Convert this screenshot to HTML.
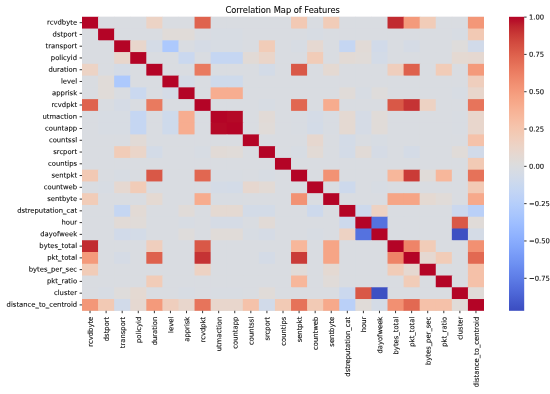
<!DOCTYPE html><html><head><meta charset="utf-8"><title>Correlation Map of Features</title>
<style>html,body{margin:0;padding:0;background:#fff;}body{width:550px;height:394px;overflow:hidden;}svg{display:block;}text{font-family:"DejaVu Sans","Liberation Sans",sans-serif;fill:#0a0a0a;stroke:#0a0a0a;stroke-width:0.10;}</style></head><body>
<svg width="550" height="394" viewBox="0 0 550 394">
<rect x="0" y="0" width="550" height="394" fill="#ffffff"/>
<defs><linearGradient id="cb" x1="0" y1="1" x2="0" y2="0">
<stop offset="0.0000" stop-color="#3b4cc0"/>
<stop offset="0.0156" stop-color="#3f53c6"/>
<stop offset="0.0312" stop-color="#445acc"/>
<stop offset="0.0469" stop-color="#4961d2"/>
<stop offset="0.0625" stop-color="#4e68d8"/>
<stop offset="0.0781" stop-color="#536edd"/>
<stop offset="0.0938" stop-color="#5875e1"/>
<stop offset="0.1094" stop-color="#5d7ce6"/>
<stop offset="0.1250" stop-color="#6282ea"/>
<stop offset="0.1406" stop-color="#6788ee"/>
<stop offset="0.1562" stop-color="#6c8ff1"/>
<stop offset="0.1719" stop-color="#7295f4"/>
<stop offset="0.1875" stop-color="#779af7"/>
<stop offset="0.2031" stop-color="#7da0f9"/>
<stop offset="0.2188" stop-color="#82a6fb"/>
<stop offset="0.2344" stop-color="#88abfd"/>
<stop offset="0.2500" stop-color="#8db0fe"/>
<stop offset="0.2656" stop-color="#93b5fe"/>
<stop offset="0.2812" stop-color="#98b9ff"/>
<stop offset="0.2969" stop-color="#9ebeff"/>
<stop offset="0.3125" stop-color="#a3c2fe"/>
<stop offset="0.3281" stop-color="#a9c6fd"/>
<stop offset="0.3438" stop-color="#aec9fc"/>
<stop offset="0.3594" stop-color="#b3cdfb"/>
<stop offset="0.3750" stop-color="#b9d0f9"/>
<stop offset="0.3906" stop-color="#bed2f6"/>
<stop offset="0.4062" stop-color="#c3d5f4"/>
<stop offset="0.4219" stop-color="#c7d7f0"/>
<stop offset="0.4375" stop-color="#ccd9ed"/>
<stop offset="0.4531" stop-color="#d1dae9"/>
<stop offset="0.4688" stop-color="#d5dbe5"/>
<stop offset="0.4844" stop-color="#d9dce1"/>
<stop offset="0.5000" stop-color="#dddcdc"/>
<stop offset="0.5156" stop-color="#e1dad6"/>
<stop offset="0.5312" stop-color="#e5d8d1"/>
<stop offset="0.5469" stop-color="#e9d5cb"/>
<stop offset="0.5625" stop-color="#ecd3c5"/>
<stop offset="0.5781" stop-color="#efcfbf"/>
<stop offset="0.5938" stop-color="#f1ccb8"/>
<stop offset="0.6094" stop-color="#f3c8b2"/>
<stop offset="0.6250" stop-color="#f5c4ac"/>
<stop offset="0.6406" stop-color="#f6bfa6"/>
<stop offset="0.6562" stop-color="#f7ba9f"/>
<stop offset="0.6719" stop-color="#f7b599"/>
<stop offset="0.6875" stop-color="#f7b093"/>
<stop offset="0.7031" stop-color="#f7aa8c"/>
<stop offset="0.7188" stop-color="#f6a586"/>
<stop offset="0.7344" stop-color="#f59f80"/>
<stop offset="0.7500" stop-color="#f4987a"/>
<stop offset="0.7656" stop-color="#f29274"/>
<stop offset="0.7812" stop-color="#f08b6e"/>
<stop offset="0.7969" stop-color="#ee8468"/>
<stop offset="0.8125" stop-color="#eb7d62"/>
<stop offset="0.8281" stop-color="#e8765c"/>
<stop offset="0.8438" stop-color="#e46e56"/>
<stop offset="0.8594" stop-color="#e16751"/>
<stop offset="0.8750" stop-color="#dd5f4b"/>
<stop offset="0.8906" stop-color="#d85646"/>
<stop offset="0.9062" stop-color="#d44e41"/>
<stop offset="0.9219" stop-color="#cf453c"/>
<stop offset="0.9375" stop-color="#ca3b37"/>
<stop offset="0.9531" stop-color="#c43032"/>
<stop offset="0.9688" stop-color="#be242e"/>
<stop offset="0.9844" stop-color="#b8122a"/>
<stop offset="1.0000" stop-color="#b40426"/>
</linearGradient></defs>
<g>
<rect x="82.00" y="16.80" width="402.00" height="294.00" fill="#dbdcde"/>
<rect x="82.00" y="16.80" width="16.68" height="12.36" fill="#b40426"/>
<rect x="98.08" y="16.80" width="16.68" height="12.36" fill="#d9dce1"/>
<rect x="114.16" y="16.80" width="16.68" height="12.36" fill="#d9dce1"/>
<rect x="130.24" y="16.80" width="16.68" height="12.36" fill="#d9dce1"/>
<rect x="146.32" y="16.80" width="16.68" height="12.36" fill="#ecd3c5"/>
<rect x="162.40" y="16.80" width="16.68" height="12.36" fill="#d9dce1"/>
<rect x="178.48" y="16.80" width="16.68" height="12.36" fill="#d9dce1"/>
<rect x="194.56" y="16.80" width="16.68" height="12.36" fill="#df634e"/>
<rect x="210.64" y="16.80" width="16.68" height="12.36" fill="#d9dce1"/>
<rect x="226.72" y="16.80" width="16.68" height="12.36" fill="#d9dce1"/>
<rect x="242.80" y="16.80" width="16.68" height="12.36" fill="#d9dce1"/>
<rect x="258.88" y="16.80" width="16.68" height="12.36" fill="#d9dce1"/>
<rect x="274.96" y="16.80" width="16.68" height="12.36" fill="#d9dce1"/>
<rect x="291.04" y="16.80" width="16.68" height="12.36" fill="#f2c9b4"/>
<rect x="307.12" y="16.80" width="16.68" height="12.36" fill="#d9dce1"/>
<rect x="323.20" y="16.80" width="16.68" height="12.36" fill="#f1ccb8"/>
<rect x="339.28" y="16.80" width="16.68" height="12.36" fill="#d9dce1"/>
<rect x="355.36" y="16.80" width="16.68" height="12.36" fill="#d9dce1"/>
<rect x="371.44" y="16.80" width="16.68" height="12.36" fill="#d9dce1"/>
<rect x="387.52" y="16.80" width="16.68" height="12.36" fill="#c12b30"/>
<rect x="403.60" y="16.80" width="16.68" height="12.36" fill="#f49a7b"/>
<rect x="419.68" y="16.80" width="16.68" height="12.36" fill="#f1ccb8"/>
<rect x="435.76" y="16.80" width="16.68" height="12.36" fill="#d9dce1"/>
<rect x="451.84" y="16.80" width="16.68" height="12.36" fill="#d9dce1"/>
<rect x="467.92" y="16.80" width="16.08" height="12.36" fill="#f39778"/>
<rect x="82.00" y="28.56" width="16.68" height="12.36" fill="#d9dce1"/>
<rect x="98.08" y="28.56" width="16.68" height="12.36" fill="#b40426"/>
<rect x="114.16" y="28.56" width="16.68" height="12.36" fill="#d9dce1"/>
<rect x="130.24" y="28.56" width="16.68" height="12.36" fill="#d9dce1"/>
<rect x="146.32" y="28.56" width="16.68" height="12.36" fill="#d9dce1"/>
<rect x="162.40" y="28.56" width="16.68" height="12.36" fill="#e0dbd8"/>
<rect x="178.48" y="28.56" width="16.68" height="12.36" fill="#e0dbd8"/>
<rect x="194.56" y="28.56" width="16.68" height="12.36" fill="#d9dce1"/>
<rect x="210.64" y="28.56" width="16.68" height="12.36" fill="#d7dce3"/>
<rect x="226.72" y="28.56" width="16.68" height="12.36" fill="#d7dce3"/>
<rect x="242.80" y="28.56" width="16.68" height="12.36" fill="#d9dce1"/>
<rect x="258.88" y="28.56" width="16.68" height="12.36" fill="#d9dce1"/>
<rect x="274.96" y="28.56" width="16.68" height="12.36" fill="#d9dce1"/>
<rect x="291.04" y="28.56" width="16.68" height="12.36" fill="#d9dce1"/>
<rect x="307.12" y="28.56" width="16.68" height="12.36" fill="#d7dce3"/>
<rect x="323.20" y="28.56" width="16.68" height="12.36" fill="#d9dce1"/>
<rect x="339.28" y="28.56" width="16.68" height="12.36" fill="#d9dce1"/>
<rect x="355.36" y="28.56" width="16.68" height="12.36" fill="#d9dce1"/>
<rect x="371.44" y="28.56" width="16.68" height="12.36" fill="#d9dce1"/>
<rect x="387.52" y="28.56" width="16.68" height="12.36" fill="#d9dce1"/>
<rect x="403.60" y="28.56" width="16.68" height="12.36" fill="#d9dce1"/>
<rect x="419.68" y="28.56" width="16.68" height="12.36" fill="#d9dce1"/>
<rect x="435.76" y="28.56" width="16.68" height="12.36" fill="#d9dce1"/>
<rect x="451.84" y="28.56" width="16.68" height="12.36" fill="#d7dce3"/>
<rect x="467.92" y="28.56" width="16.08" height="12.36" fill="#f2c9b4"/>
<rect x="82.00" y="40.32" width="16.68" height="12.36" fill="#d9dce1"/>
<rect x="98.08" y="40.32" width="16.68" height="12.36" fill="#d9dce1"/>
<rect x="114.16" y="40.32" width="16.68" height="12.36" fill="#b40426"/>
<rect x="130.24" y="40.32" width="16.68" height="12.36" fill="#e8d6cc"/>
<rect x="146.32" y="40.32" width="16.68" height="12.36" fill="#d4dbe6"/>
<rect x="162.40" y="40.32" width="16.68" height="12.36" fill="#adc9fd"/>
<rect x="178.48" y="40.32" width="16.68" height="12.36" fill="#d9dce1"/>
<rect x="194.56" y="40.32" width="16.68" height="12.36" fill="#d5dbe5"/>
<rect x="210.64" y="40.32" width="16.68" height="12.36" fill="#d7dce3"/>
<rect x="226.72" y="40.32" width="16.68" height="12.36" fill="#d7dce3"/>
<rect x="242.80" y="40.32" width="16.68" height="12.36" fill="#d9dce1"/>
<rect x="258.88" y="40.32" width="16.68" height="12.36" fill="#f1ccb8"/>
<rect x="274.96" y="40.32" width="16.68" height="12.36" fill="#d9dce1"/>
<rect x="291.04" y="40.32" width="16.68" height="12.36" fill="#d7dce3"/>
<rect x="307.12" y="40.32" width="16.68" height="12.36" fill="#e5d8d1"/>
<rect x="323.20" y="40.32" width="16.68" height="12.36" fill="#d9dce1"/>
<rect x="339.28" y="40.32" width="16.68" height="12.36" fill="#c5d6f2"/>
<rect x="355.36" y="40.32" width="16.68" height="12.36" fill="#e1dad6"/>
<rect x="371.44" y="40.32" width="16.68" height="12.36" fill="#d1dae9"/>
<rect x="387.52" y="40.32" width="16.68" height="12.36" fill="#d9dce1"/>
<rect x="403.60" y="40.32" width="16.68" height="12.36" fill="#d5dbe5"/>
<rect x="419.68" y="40.32" width="16.68" height="12.36" fill="#d9dce1"/>
<rect x="435.76" y="40.32" width="16.68" height="12.36" fill="#d9dce1"/>
<rect x="451.84" y="40.32" width="16.68" height="12.36" fill="#dedcdb"/>
<rect x="467.92" y="40.32" width="16.08" height="12.36" fill="#d1dae9"/>
<rect x="82.00" y="52.08" width="16.68" height="12.36" fill="#d9dce1"/>
<rect x="98.08" y="52.08" width="16.68" height="12.36" fill="#d9dce1"/>
<rect x="114.16" y="52.08" width="16.68" height="12.36" fill="#e8d6cc"/>
<rect x="130.24" y="52.08" width="16.68" height="12.36" fill="#b40426"/>
<rect x="146.32" y="52.08" width="16.68" height="12.36" fill="#d9dce1"/>
<rect x="162.40" y="52.08" width="16.68" height="12.36" fill="#d9dce1"/>
<rect x="178.48" y="52.08" width="16.68" height="12.36" fill="#cad8ef"/>
<rect x="194.56" y="52.08" width="16.68" height="12.36" fill="#d9dce1"/>
<rect x="210.64" y="52.08" width="16.68" height="12.36" fill="#c5d6f2"/>
<rect x="226.72" y="52.08" width="16.68" height="12.36" fill="#c5d6f2"/>
<rect x="242.80" y="52.08" width="16.68" height="12.36" fill="#e1dad6"/>
<rect x="258.88" y="52.08" width="16.68" height="12.36" fill="#ead5c9"/>
<rect x="274.96" y="52.08" width="16.68" height="12.36" fill="#d9dce1"/>
<rect x="291.04" y="52.08" width="16.68" height="12.36" fill="#d9dce1"/>
<rect x="307.12" y="52.08" width="16.68" height="12.36" fill="#f1ccb8"/>
<rect x="323.20" y="52.08" width="16.68" height="12.36" fill="#d9dce1"/>
<rect x="339.28" y="52.08" width="16.68" height="12.36" fill="#e2dad5"/>
<rect x="355.36" y="52.08" width="16.68" height="12.36" fill="#e0dbd8"/>
<rect x="371.44" y="52.08" width="16.68" height="12.36" fill="#d3dbe7"/>
<rect x="387.52" y="52.08" width="16.68" height="12.36" fill="#d9dce1"/>
<rect x="403.60" y="52.08" width="16.68" height="12.36" fill="#d9dce1"/>
<rect x="419.68" y="52.08" width="16.68" height="12.36" fill="#d9dce1"/>
<rect x="435.76" y="52.08" width="16.68" height="12.36" fill="#d9dce1"/>
<rect x="451.84" y="52.08" width="16.68" height="12.36" fill="#e4d9d2"/>
<rect x="467.92" y="52.08" width="16.08" height="12.36" fill="#e5d8d1"/>
<rect x="82.00" y="63.84" width="16.68" height="12.36" fill="#ecd3c5"/>
<rect x="98.08" y="63.84" width="16.68" height="12.36" fill="#d9dce1"/>
<rect x="114.16" y="63.84" width="16.68" height="12.36" fill="#d4dbe6"/>
<rect x="130.24" y="63.84" width="16.68" height="12.36" fill="#d9dce1"/>
<rect x="146.32" y="63.84" width="16.68" height="12.36" fill="#b40426"/>
<rect x="162.40" y="63.84" width="16.68" height="12.36" fill="#d9dce1"/>
<rect x="178.48" y="63.84" width="16.68" height="12.36" fill="#d9dce1"/>
<rect x="194.56" y="63.84" width="16.68" height="12.36" fill="#e97a5f"/>
<rect x="210.64" y="63.84" width="16.68" height="12.36" fill="#d9dce1"/>
<rect x="226.72" y="63.84" width="16.68" height="12.36" fill="#d9dce1"/>
<rect x="242.80" y="63.84" width="16.68" height="12.36" fill="#d9dce1"/>
<rect x="258.88" y="63.84" width="16.68" height="12.36" fill="#d3dbe7"/>
<rect x="274.96" y="63.84" width="16.68" height="12.36" fill="#d9dce1"/>
<rect x="291.04" y="63.84" width="16.68" height="12.36" fill="#d95847"/>
<rect x="307.12" y="63.84" width="16.68" height="12.36" fill="#d9dce1"/>
<rect x="323.20" y="63.84" width="16.68" height="12.36" fill="#e4d9d2"/>
<rect x="339.28" y="63.84" width="16.68" height="12.36" fill="#d9dce1"/>
<rect x="355.36" y="63.84" width="16.68" height="12.36" fill="#d9dce1"/>
<rect x="371.44" y="63.84" width="16.68" height="12.36" fill="#d9dce1"/>
<rect x="387.52" y="63.84" width="16.68" height="12.36" fill="#efcebd"/>
<rect x="403.60" y="63.84" width="16.68" height="12.36" fill="#de614d"/>
<rect x="419.68" y="63.84" width="16.68" height="12.36" fill="#d9dce1"/>
<rect x="435.76" y="63.84" width="16.68" height="12.36" fill="#f1ccb8"/>
<rect x="451.84" y="63.84" width="16.68" height="12.36" fill="#d9dce1"/>
<rect x="467.92" y="63.84" width="16.08" height="12.36" fill="#f49a7b"/>
<rect x="82.00" y="75.60" width="16.68" height="12.36" fill="#d9dce1"/>
<rect x="98.08" y="75.60" width="16.68" height="12.36" fill="#e0dbd8"/>
<rect x="114.16" y="75.60" width="16.68" height="12.36" fill="#adc9fd"/>
<rect x="130.24" y="75.60" width="16.68" height="12.36" fill="#d9dce1"/>
<rect x="146.32" y="75.60" width="16.68" height="12.36" fill="#d9dce1"/>
<rect x="162.40" y="75.60" width="16.68" height="12.36" fill="#b40426"/>
<rect x="178.48" y="75.60" width="16.68" height="12.36" fill="#d4dbe6"/>
<rect x="194.56" y="75.60" width="16.68" height="12.36" fill="#d9dce1"/>
<rect x="210.64" y="75.60" width="16.68" height="12.36" fill="#cedaeb"/>
<rect x="226.72" y="75.60" width="16.68" height="12.36" fill="#cedaeb"/>
<rect x="242.80" y="75.60" width="16.68" height="12.36" fill="#d9dce1"/>
<rect x="258.88" y="75.60" width="16.68" height="12.36" fill="#d9dce1"/>
<rect x="274.96" y="75.60" width="16.68" height="12.36" fill="#d9dce1"/>
<rect x="291.04" y="75.60" width="16.68" height="12.36" fill="#d9dce1"/>
<rect x="307.12" y="75.60" width="16.68" height="12.36" fill="#d9dce1"/>
<rect x="323.20" y="75.60" width="16.68" height="12.36" fill="#d9dce1"/>
<rect x="339.28" y="75.60" width="16.68" height="12.36" fill="#d9dce1"/>
<rect x="355.36" y="75.60" width="16.68" height="12.36" fill="#d9dce1"/>
<rect x="371.44" y="75.60" width="16.68" height="12.36" fill="#d9dce1"/>
<rect x="387.52" y="75.60" width="16.68" height="12.36" fill="#d9dce1"/>
<rect x="403.60" y="75.60" width="16.68" height="12.36" fill="#d9dce1"/>
<rect x="419.68" y="75.60" width="16.68" height="12.36" fill="#d9dce1"/>
<rect x="435.76" y="75.60" width="16.68" height="12.36" fill="#d9dce1"/>
<rect x="451.84" y="75.60" width="16.68" height="12.36" fill="#d9dce1"/>
<rect x="467.92" y="75.60" width="16.08" height="12.36" fill="#efcebd"/>
<rect x="82.00" y="87.36" width="16.68" height="12.36" fill="#d9dce1"/>
<rect x="98.08" y="87.36" width="16.68" height="12.36" fill="#e0dbd8"/>
<rect x="114.16" y="87.36" width="16.68" height="12.36" fill="#d9dce1"/>
<rect x="130.24" y="87.36" width="16.68" height="12.36" fill="#cad8ef"/>
<rect x="146.32" y="87.36" width="16.68" height="12.36" fill="#d9dce1"/>
<rect x="162.40" y="87.36" width="16.68" height="12.36" fill="#d4dbe6"/>
<rect x="178.48" y="87.36" width="16.68" height="12.36" fill="#b40426"/>
<rect x="194.56" y="87.36" width="16.68" height="12.36" fill="#d9dce1"/>
<rect x="210.64" y="87.36" width="16.68" height="12.36" fill="#f7ad90"/>
<rect x="226.72" y="87.36" width="16.68" height="12.36" fill="#f7ad90"/>
<rect x="242.80" y="87.36" width="16.68" height="12.36" fill="#d9dce1"/>
<rect x="258.88" y="87.36" width="16.68" height="12.36" fill="#d9dce1"/>
<rect x="274.96" y="87.36" width="16.68" height="12.36" fill="#d9dce1"/>
<rect x="291.04" y="87.36" width="16.68" height="12.36" fill="#d9dce1"/>
<rect x="307.12" y="87.36" width="16.68" height="12.36" fill="#d9dce1"/>
<rect x="323.20" y="87.36" width="16.68" height="12.36" fill="#d9dce1"/>
<rect x="339.28" y="87.36" width="16.68" height="12.36" fill="#e0dbd8"/>
<rect x="355.36" y="87.36" width="16.68" height="12.36" fill="#d7dce3"/>
<rect x="371.44" y="87.36" width="16.68" height="12.36" fill="#dedcdb"/>
<rect x="387.52" y="87.36" width="16.68" height="12.36" fill="#d9dce1"/>
<rect x="403.60" y="87.36" width="16.68" height="12.36" fill="#d9dce1"/>
<rect x="419.68" y="87.36" width="16.68" height="12.36" fill="#d9dce1"/>
<rect x="435.76" y="87.36" width="16.68" height="12.36" fill="#d9dce1"/>
<rect x="451.84" y="87.36" width="16.68" height="12.36" fill="#d7dce3"/>
<rect x="467.92" y="87.36" width="16.08" height="12.36" fill="#e8d6cc"/>
<rect x="82.00" y="99.12" width="16.68" height="12.36" fill="#df634e"/>
<rect x="98.08" y="99.12" width="16.68" height="12.36" fill="#d9dce1"/>
<rect x="114.16" y="99.12" width="16.68" height="12.36" fill="#d5dbe5"/>
<rect x="130.24" y="99.12" width="16.68" height="12.36" fill="#d9dce1"/>
<rect x="146.32" y="99.12" width="16.68" height="12.36" fill="#e97a5f"/>
<rect x="162.40" y="99.12" width="16.68" height="12.36" fill="#d9dce1"/>
<rect x="178.48" y="99.12" width="16.68" height="12.36" fill="#d9dce1"/>
<rect x="194.56" y="99.12" width="16.68" height="12.36" fill="#b40426"/>
<rect x="210.64" y="99.12" width="16.68" height="12.36" fill="#d9dce1"/>
<rect x="226.72" y="99.12" width="16.68" height="12.36" fill="#d9dce1"/>
<rect x="242.80" y="99.12" width="16.68" height="12.36" fill="#d9dce1"/>
<rect x="258.88" y="99.12" width="16.68" height="12.36" fill="#d7dce3"/>
<rect x="274.96" y="99.12" width="16.68" height="12.36" fill="#d9dce1"/>
<rect x="291.04" y="99.12" width="16.68" height="12.36" fill="#e16751"/>
<rect x="307.12" y="99.12" width="16.68" height="12.36" fill="#d9dce1"/>
<rect x="323.20" y="99.12" width="16.68" height="12.36" fill="#f7ac8e"/>
<rect x="339.28" y="99.12" width="16.68" height="12.36" fill="#d9dce1"/>
<rect x="355.36" y="99.12" width="16.68" height="12.36" fill="#d9dce1"/>
<rect x="371.44" y="99.12" width="16.68" height="12.36" fill="#d9dce1"/>
<rect x="387.52" y="99.12" width="16.68" height="12.36" fill="#d95847"/>
<rect x="403.60" y="99.12" width="16.68" height="12.36" fill="#c53334"/>
<rect x="419.68" y="99.12" width="16.68" height="12.36" fill="#edd2c3"/>
<rect x="435.76" y="99.12" width="16.68" height="12.36" fill="#d9dce1"/>
<rect x="451.84" y="99.12" width="16.68" height="12.36" fill="#d9dce1"/>
<rect x="467.92" y="99.12" width="16.08" height="12.36" fill="#e7745b"/>
<rect x="82.00" y="110.88" width="16.68" height="12.36" fill="#d9dce1"/>
<rect x="98.08" y="110.88" width="16.68" height="12.36" fill="#d7dce3"/>
<rect x="114.16" y="110.88" width="16.68" height="12.36" fill="#d7dce3"/>
<rect x="130.24" y="110.88" width="16.68" height="12.36" fill="#c5d6f2"/>
<rect x="146.32" y="110.88" width="16.68" height="12.36" fill="#d9dce1"/>
<rect x="162.40" y="110.88" width="16.68" height="12.36" fill="#cedaeb"/>
<rect x="178.48" y="110.88" width="16.68" height="12.36" fill="#f7ad90"/>
<rect x="194.56" y="110.88" width="16.68" height="12.36" fill="#d9dce1"/>
<rect x="210.64" y="110.88" width="16.68" height="12.36" fill="#b40426"/>
<rect x="226.72" y="110.88" width="16.68" height="12.36" fill="#b50927"/>
<rect x="242.80" y="110.88" width="16.68" height="12.36" fill="#d9dce1"/>
<rect x="258.88" y="110.88" width="16.68" height="12.36" fill="#e1dad6"/>
<rect x="274.96" y="110.88" width="16.68" height="12.36" fill="#d9dce1"/>
<rect x="291.04" y="110.88" width="16.68" height="12.36" fill="#d8dce2"/>
<rect x="307.12" y="110.88" width="16.68" height="12.36" fill="#d4dbe6"/>
<rect x="323.20" y="110.88" width="16.68" height="12.36" fill="#d8dce2"/>
<rect x="339.28" y="110.88" width="16.68" height="12.36" fill="#e4d9d2"/>
<rect x="355.36" y="110.88" width="16.68" height="12.36" fill="#d5dbe5"/>
<rect x="371.44" y="110.88" width="16.68" height="12.36" fill="#e0dbd8"/>
<rect x="387.52" y="110.88" width="16.68" height="12.36" fill="#d9dce1"/>
<rect x="403.60" y="110.88" width="16.68" height="12.36" fill="#d9dce1"/>
<rect x="419.68" y="110.88" width="16.68" height="12.36" fill="#d9dce1"/>
<rect x="435.76" y="110.88" width="16.68" height="12.36" fill="#d9dce1"/>
<rect x="451.84" y="110.88" width="16.68" height="12.36" fill="#d8dce2"/>
<rect x="467.92" y="110.88" width="16.08" height="12.36" fill="#e8d6cc"/>
<rect x="82.00" y="122.64" width="16.68" height="12.36" fill="#d9dce1"/>
<rect x="98.08" y="122.64" width="16.68" height="12.36" fill="#d7dce3"/>
<rect x="114.16" y="122.64" width="16.68" height="12.36" fill="#d7dce3"/>
<rect x="130.24" y="122.64" width="16.68" height="12.36" fill="#c5d6f2"/>
<rect x="146.32" y="122.64" width="16.68" height="12.36" fill="#d9dce1"/>
<rect x="162.40" y="122.64" width="16.68" height="12.36" fill="#cedaeb"/>
<rect x="178.48" y="122.64" width="16.68" height="12.36" fill="#f7ad90"/>
<rect x="194.56" y="122.64" width="16.68" height="12.36" fill="#d9dce1"/>
<rect x="210.64" y="122.64" width="16.68" height="12.36" fill="#b50927"/>
<rect x="226.72" y="122.64" width="16.68" height="12.36" fill="#b40426"/>
<rect x="242.80" y="122.64" width="16.68" height="12.36" fill="#d9dce1"/>
<rect x="258.88" y="122.64" width="16.68" height="12.36" fill="#e0dbd8"/>
<rect x="274.96" y="122.64" width="16.68" height="12.36" fill="#d9dce1"/>
<rect x="291.04" y="122.64" width="16.68" height="12.36" fill="#d8dce2"/>
<rect x="307.12" y="122.64" width="16.68" height="12.36" fill="#d3dbe7"/>
<rect x="323.20" y="122.64" width="16.68" height="12.36" fill="#d8dce2"/>
<rect x="339.28" y="122.64" width="16.68" height="12.36" fill="#e4d9d2"/>
<rect x="355.36" y="122.64" width="16.68" height="12.36" fill="#d5dbe5"/>
<rect x="371.44" y="122.64" width="16.68" height="12.36" fill="#e0dbd8"/>
<rect x="387.52" y="122.64" width="16.68" height="12.36" fill="#d9dce1"/>
<rect x="403.60" y="122.64" width="16.68" height="12.36" fill="#d9dce1"/>
<rect x="419.68" y="122.64" width="16.68" height="12.36" fill="#d9dce1"/>
<rect x="435.76" y="122.64" width="16.68" height="12.36" fill="#d9dce1"/>
<rect x="451.84" y="122.64" width="16.68" height="12.36" fill="#d8dce2"/>
<rect x="467.92" y="122.64" width="16.08" height="12.36" fill="#e8d6cc"/>
<rect x="82.00" y="134.40" width="16.68" height="12.36" fill="#d9dce1"/>
<rect x="98.08" y="134.40" width="16.68" height="12.36" fill="#d9dce1"/>
<rect x="114.16" y="134.40" width="16.68" height="12.36" fill="#d9dce1"/>
<rect x="130.24" y="134.40" width="16.68" height="12.36" fill="#e1dad6"/>
<rect x="146.32" y="134.40" width="16.68" height="12.36" fill="#d9dce1"/>
<rect x="162.40" y="134.40" width="16.68" height="12.36" fill="#d9dce1"/>
<rect x="178.48" y="134.40" width="16.68" height="12.36" fill="#d9dce1"/>
<rect x="194.56" y="134.40" width="16.68" height="12.36" fill="#d9dce1"/>
<rect x="210.64" y="134.40" width="16.68" height="12.36" fill="#d9dce1"/>
<rect x="226.72" y="134.40" width="16.68" height="12.36" fill="#d9dce1"/>
<rect x="242.80" y="134.40" width="16.68" height="12.36" fill="#b40426"/>
<rect x="258.88" y="134.40" width="16.68" height="12.36" fill="#d9dce1"/>
<rect x="274.96" y="134.40" width="16.68" height="12.36" fill="#d9dce1"/>
<rect x="291.04" y="134.40" width="16.68" height="12.36" fill="#d9dce1"/>
<rect x="307.12" y="134.40" width="16.68" height="12.36" fill="#e6d7cf"/>
<rect x="323.20" y="134.40" width="16.68" height="12.36" fill="#d9dce1"/>
<rect x="339.28" y="134.40" width="16.68" height="12.36" fill="#d3dbe7"/>
<rect x="355.36" y="134.40" width="16.68" height="12.36" fill="#d9dce1"/>
<rect x="371.44" y="134.40" width="16.68" height="12.36" fill="#d7dce3"/>
<rect x="387.52" y="134.40" width="16.68" height="12.36" fill="#d9dce1"/>
<rect x="403.60" y="134.40" width="16.68" height="12.36" fill="#d9dce1"/>
<rect x="419.68" y="134.40" width="16.68" height="12.36" fill="#d9dce1"/>
<rect x="435.76" y="134.40" width="16.68" height="12.36" fill="#d9dce1"/>
<rect x="451.84" y="134.40" width="16.68" height="12.36" fill="#d9dce1"/>
<rect x="467.92" y="134.40" width="16.08" height="12.36" fill="#f5c2aa"/>
<rect x="82.00" y="146.16" width="16.68" height="12.36" fill="#d9dce1"/>
<rect x="98.08" y="146.16" width="16.68" height="12.36" fill="#d9dce1"/>
<rect x="114.16" y="146.16" width="16.68" height="12.36" fill="#f1ccb8"/>
<rect x="130.24" y="146.16" width="16.68" height="12.36" fill="#ead5c9"/>
<rect x="146.32" y="146.16" width="16.68" height="12.36" fill="#d3dbe7"/>
<rect x="162.40" y="146.16" width="16.68" height="12.36" fill="#d9dce1"/>
<rect x="178.48" y="146.16" width="16.68" height="12.36" fill="#d9dce1"/>
<rect x="194.56" y="146.16" width="16.68" height="12.36" fill="#d7dce3"/>
<rect x="210.64" y="146.16" width="16.68" height="12.36" fill="#e1dad6"/>
<rect x="226.72" y="146.16" width="16.68" height="12.36" fill="#e0dbd8"/>
<rect x="242.80" y="146.16" width="16.68" height="12.36" fill="#d9dce1"/>
<rect x="258.88" y="146.16" width="16.68" height="12.36" fill="#b40426"/>
<rect x="274.96" y="146.16" width="16.68" height="12.36" fill="#d9dce1"/>
<rect x="291.04" y="146.16" width="16.68" height="12.36" fill="#d7dce3"/>
<rect x="307.12" y="146.16" width="16.68" height="12.36" fill="#e2dad5"/>
<rect x="323.20" y="146.16" width="16.68" height="12.36" fill="#d9dce1"/>
<rect x="339.28" y="146.16" width="16.68" height="12.36" fill="#d3dbe7"/>
<rect x="355.36" y="146.16" width="16.68" height="12.36" fill="#e1dad6"/>
<rect x="371.44" y="146.16" width="16.68" height="12.36" fill="#d5dbe5"/>
<rect x="387.52" y="146.16" width="16.68" height="12.36" fill="#d9dce1"/>
<rect x="403.60" y="146.16" width="16.68" height="12.36" fill="#d4dbe6"/>
<rect x="419.68" y="146.16" width="16.68" height="12.36" fill="#d9dce1"/>
<rect x="435.76" y="146.16" width="16.68" height="12.36" fill="#d9dce1"/>
<rect x="451.84" y="146.16" width="16.68" height="12.36" fill="#e0dbd8"/>
<rect x="467.92" y="146.16" width="16.08" height="12.36" fill="#d1dae9"/>
<rect x="82.00" y="157.92" width="16.68" height="12.36" fill="#d9dce1"/>
<rect x="98.08" y="157.92" width="16.68" height="12.36" fill="#d9dce1"/>
<rect x="114.16" y="157.92" width="16.68" height="12.36" fill="#d9dce1"/>
<rect x="130.24" y="157.92" width="16.68" height="12.36" fill="#d9dce1"/>
<rect x="146.32" y="157.92" width="16.68" height="12.36" fill="#d9dce1"/>
<rect x="162.40" y="157.92" width="16.68" height="12.36" fill="#d9dce1"/>
<rect x="178.48" y="157.92" width="16.68" height="12.36" fill="#d9dce1"/>
<rect x="194.56" y="157.92" width="16.68" height="12.36" fill="#d9dce1"/>
<rect x="210.64" y="157.92" width="16.68" height="12.36" fill="#d9dce1"/>
<rect x="226.72" y="157.92" width="16.68" height="12.36" fill="#d9dce1"/>
<rect x="242.80" y="157.92" width="16.68" height="12.36" fill="#d9dce1"/>
<rect x="258.88" y="157.92" width="16.68" height="12.36" fill="#d9dce1"/>
<rect x="274.96" y="157.92" width="16.68" height="12.36" fill="#b40426"/>
<rect x="291.04" y="157.92" width="16.68" height="12.36" fill="#d9dce1"/>
<rect x="307.12" y="157.92" width="16.68" height="12.36" fill="#d9dce1"/>
<rect x="323.20" y="157.92" width="16.68" height="12.36" fill="#d9dce1"/>
<rect x="339.28" y="157.92" width="16.68" height="12.36" fill="#d9dce1"/>
<rect x="355.36" y="157.92" width="16.68" height="12.36" fill="#d9dce1"/>
<rect x="371.44" y="157.92" width="16.68" height="12.36" fill="#d9dce1"/>
<rect x="387.52" y="157.92" width="16.68" height="12.36" fill="#d9dce1"/>
<rect x="403.60" y="157.92" width="16.68" height="12.36" fill="#d9dce1"/>
<rect x="419.68" y="157.92" width="16.68" height="12.36" fill="#d9dce1"/>
<rect x="435.76" y="157.92" width="16.68" height="12.36" fill="#d9dce1"/>
<rect x="451.84" y="157.92" width="16.68" height="12.36" fill="#d9dce1"/>
<rect x="467.92" y="157.92" width="16.08" height="12.36" fill="#f2cab5"/>
<rect x="82.00" y="169.68" width="16.68" height="12.36" fill="#f2c9b4"/>
<rect x="98.08" y="169.68" width="16.68" height="12.36" fill="#d9dce1"/>
<rect x="114.16" y="169.68" width="16.68" height="12.36" fill="#d7dce3"/>
<rect x="130.24" y="169.68" width="16.68" height="12.36" fill="#d9dce1"/>
<rect x="146.32" y="169.68" width="16.68" height="12.36" fill="#d95847"/>
<rect x="162.40" y="169.68" width="16.68" height="12.36" fill="#d9dce1"/>
<rect x="178.48" y="169.68" width="16.68" height="12.36" fill="#d9dce1"/>
<rect x="194.56" y="169.68" width="16.68" height="12.36" fill="#e16751"/>
<rect x="210.64" y="169.68" width="16.68" height="12.36" fill="#d8dce2"/>
<rect x="226.72" y="169.68" width="16.68" height="12.36" fill="#d8dce2"/>
<rect x="242.80" y="169.68" width="16.68" height="12.36" fill="#d9dce1"/>
<rect x="258.88" y="169.68" width="16.68" height="12.36" fill="#d7dce3"/>
<rect x="274.96" y="169.68" width="16.68" height="12.36" fill="#d9dce1"/>
<rect x="291.04" y="169.68" width="16.68" height="12.36" fill="#b40426"/>
<rect x="307.12" y="169.68" width="16.68" height="12.36" fill="#d9dce1"/>
<rect x="323.20" y="169.68" width="16.68" height="12.36" fill="#f29274"/>
<rect x="339.28" y="169.68" width="16.68" height="12.36" fill="#d9dce1"/>
<rect x="355.36" y="169.68" width="16.68" height="12.36" fill="#d9dce1"/>
<rect x="371.44" y="169.68" width="16.68" height="12.36" fill="#d9dce1"/>
<rect x="387.52" y="169.68" width="16.68" height="12.36" fill="#f7b79b"/>
<rect x="403.60" y="169.68" width="16.68" height="12.36" fill="#ca3b37"/>
<rect x="419.68" y="169.68" width="16.68" height="12.36" fill="#e0dbd8"/>
<rect x="435.76" y="169.68" width="16.68" height="12.36" fill="#f7b79b"/>
<rect x="451.84" y="169.68" width="16.68" height="12.36" fill="#d9dce1"/>
<rect x="467.92" y="169.68" width="16.08" height="12.36" fill="#e67259"/>
<rect x="82.00" y="181.44" width="16.68" height="12.36" fill="#d9dce1"/>
<rect x="98.08" y="181.44" width="16.68" height="12.36" fill="#d7dce3"/>
<rect x="114.16" y="181.44" width="16.68" height="12.36" fill="#e5d8d1"/>
<rect x="130.24" y="181.44" width="16.68" height="12.36" fill="#f1ccb8"/>
<rect x="146.32" y="181.44" width="16.68" height="12.36" fill="#d9dce1"/>
<rect x="162.40" y="181.44" width="16.68" height="12.36" fill="#d9dce1"/>
<rect x="178.48" y="181.44" width="16.68" height="12.36" fill="#d9dce1"/>
<rect x="194.56" y="181.44" width="16.68" height="12.36" fill="#d9dce1"/>
<rect x="210.64" y="181.44" width="16.68" height="12.36" fill="#d4dbe6"/>
<rect x="226.72" y="181.44" width="16.68" height="12.36" fill="#d3dbe7"/>
<rect x="242.80" y="181.44" width="16.68" height="12.36" fill="#e6d7cf"/>
<rect x="258.88" y="181.44" width="16.68" height="12.36" fill="#e2dad5"/>
<rect x="274.96" y="181.44" width="16.68" height="12.36" fill="#d9dce1"/>
<rect x="291.04" y="181.44" width="16.68" height="12.36" fill="#d9dce1"/>
<rect x="307.12" y="181.44" width="16.68" height="12.36" fill="#b40426"/>
<rect x="323.20" y="181.44" width="16.68" height="12.36" fill="#d9dce1"/>
<rect x="339.28" y="181.44" width="16.68" height="12.36" fill="#cdd9ec"/>
<rect x="355.36" y="181.44" width="16.68" height="12.36" fill="#d9dce1"/>
<rect x="371.44" y="181.44" width="16.68" height="12.36" fill="#d7dce3"/>
<rect x="387.52" y="181.44" width="16.68" height="12.36" fill="#d9dce1"/>
<rect x="403.60" y="181.44" width="16.68" height="12.36" fill="#d9dce1"/>
<rect x="419.68" y="181.44" width="16.68" height="12.36" fill="#d9dce1"/>
<rect x="435.76" y="181.44" width="16.68" height="12.36" fill="#d9dce1"/>
<rect x="451.84" y="181.44" width="16.68" height="12.36" fill="#d9dce1"/>
<rect x="467.92" y="181.44" width="16.08" height="12.36" fill="#f2cab5"/>
<rect x="82.00" y="193.20" width="16.68" height="12.36" fill="#f1ccb8"/>
<rect x="98.08" y="193.20" width="16.68" height="12.36" fill="#d9dce1"/>
<rect x="114.16" y="193.20" width="16.68" height="12.36" fill="#d9dce1"/>
<rect x="130.24" y="193.20" width="16.68" height="12.36" fill="#d9dce1"/>
<rect x="146.32" y="193.20" width="16.68" height="12.36" fill="#e4d9d2"/>
<rect x="162.40" y="193.20" width="16.68" height="12.36" fill="#d9dce1"/>
<rect x="178.48" y="193.20" width="16.68" height="12.36" fill="#d9dce1"/>
<rect x="194.56" y="193.20" width="16.68" height="12.36" fill="#f7ac8e"/>
<rect x="210.64" y="193.20" width="16.68" height="12.36" fill="#d8dce2"/>
<rect x="226.72" y="193.20" width="16.68" height="12.36" fill="#d8dce2"/>
<rect x="242.80" y="193.20" width="16.68" height="12.36" fill="#d9dce1"/>
<rect x="258.88" y="193.20" width="16.68" height="12.36" fill="#d9dce1"/>
<rect x="274.96" y="193.20" width="16.68" height="12.36" fill="#d9dce1"/>
<rect x="291.04" y="193.20" width="16.68" height="12.36" fill="#f29274"/>
<rect x="307.12" y="193.20" width="16.68" height="12.36" fill="#d9dce1"/>
<rect x="323.20" y="193.20" width="16.68" height="12.36" fill="#b40426"/>
<rect x="339.28" y="193.20" width="16.68" height="12.36" fill="#d9dce1"/>
<rect x="355.36" y="193.20" width="16.68" height="12.36" fill="#d9dce1"/>
<rect x="371.44" y="193.20" width="16.68" height="12.36" fill="#d9dce1"/>
<rect x="387.52" y="193.20" width="16.68" height="12.36" fill="#f6a586"/>
<rect x="403.60" y="193.20" width="16.68" height="12.36" fill="#f6a586"/>
<rect x="419.68" y="193.20" width="16.68" height="12.36" fill="#e4d9d2"/>
<rect x="435.76" y="193.20" width="16.68" height="12.36" fill="#e0dbd8"/>
<rect x="451.84" y="193.20" width="16.68" height="12.36" fill="#d9dce1"/>
<rect x="467.92" y="193.20" width="16.08" height="12.36" fill="#f7a98b"/>
<rect x="82.00" y="204.96" width="16.68" height="12.36" fill="#d9dce1"/>
<rect x="98.08" y="204.96" width="16.68" height="12.36" fill="#d9dce1"/>
<rect x="114.16" y="204.96" width="16.68" height="12.36" fill="#c5d6f2"/>
<rect x="130.24" y="204.96" width="16.68" height="12.36" fill="#e2dad5"/>
<rect x="146.32" y="204.96" width="16.68" height="12.36" fill="#d9dce1"/>
<rect x="162.40" y="204.96" width="16.68" height="12.36" fill="#d9dce1"/>
<rect x="178.48" y="204.96" width="16.68" height="12.36" fill="#e0dbd8"/>
<rect x="194.56" y="204.96" width="16.68" height="12.36" fill="#d9dce1"/>
<rect x="210.64" y="204.96" width="16.68" height="12.36" fill="#e4d9d2"/>
<rect x="226.72" y="204.96" width="16.68" height="12.36" fill="#e4d9d2"/>
<rect x="242.80" y="204.96" width="16.68" height="12.36" fill="#d3dbe7"/>
<rect x="258.88" y="204.96" width="16.68" height="12.36" fill="#d3dbe7"/>
<rect x="274.96" y="204.96" width="16.68" height="12.36" fill="#d9dce1"/>
<rect x="291.04" y="204.96" width="16.68" height="12.36" fill="#d9dce1"/>
<rect x="307.12" y="204.96" width="16.68" height="12.36" fill="#cdd9ec"/>
<rect x="323.20" y="204.96" width="16.68" height="12.36" fill="#d9dce1"/>
<rect x="339.28" y="204.96" width="16.68" height="12.36" fill="#b40426"/>
<rect x="355.36" y="204.96" width="16.68" height="12.36" fill="#cdd9ec"/>
<rect x="371.44" y="204.96" width="16.68" height="12.36" fill="#edd2c3"/>
<rect x="387.52" y="204.96" width="16.68" height="12.36" fill="#d9dce1"/>
<rect x="403.60" y="204.96" width="16.68" height="12.36" fill="#d9dce1"/>
<rect x="419.68" y="204.96" width="16.68" height="12.36" fill="#d9dce1"/>
<rect x="435.76" y="204.96" width="16.68" height="12.36" fill="#d9dce1"/>
<rect x="451.84" y="204.96" width="16.68" height="12.36" fill="#cbd8ee"/>
<rect x="467.92" y="204.96" width="16.08" height="12.36" fill="#bad0f8"/>
<rect x="82.00" y="216.72" width="16.68" height="12.36" fill="#d9dce1"/>
<rect x="98.08" y="216.72" width="16.68" height="12.36" fill="#d9dce1"/>
<rect x="114.16" y="216.72" width="16.68" height="12.36" fill="#e1dad6"/>
<rect x="130.24" y="216.72" width="16.68" height="12.36" fill="#e0dbd8"/>
<rect x="146.32" y="216.72" width="16.68" height="12.36" fill="#d9dce1"/>
<rect x="162.40" y="216.72" width="16.68" height="12.36" fill="#d9dce1"/>
<rect x="178.48" y="216.72" width="16.68" height="12.36" fill="#d7dce3"/>
<rect x="194.56" y="216.72" width="16.68" height="12.36" fill="#d9dce1"/>
<rect x="210.64" y="216.72" width="16.68" height="12.36" fill="#d5dbe5"/>
<rect x="226.72" y="216.72" width="16.68" height="12.36" fill="#d5dbe5"/>
<rect x="242.80" y="216.72" width="16.68" height="12.36" fill="#d9dce1"/>
<rect x="258.88" y="216.72" width="16.68" height="12.36" fill="#e1dad6"/>
<rect x="274.96" y="216.72" width="16.68" height="12.36" fill="#d9dce1"/>
<rect x="291.04" y="216.72" width="16.68" height="12.36" fill="#d9dce1"/>
<rect x="307.12" y="216.72" width="16.68" height="12.36" fill="#d9dce1"/>
<rect x="323.20" y="216.72" width="16.68" height="12.36" fill="#d9dce1"/>
<rect x="339.28" y="216.72" width="16.68" height="12.36" fill="#cdd9ec"/>
<rect x="355.36" y="216.72" width="16.68" height="12.36" fill="#b40426"/>
<rect x="371.44" y="216.72" width="16.68" height="12.36" fill="#5572df"/>
<rect x="387.52" y="216.72" width="16.68" height="12.36" fill="#d9dce1"/>
<rect x="403.60" y="216.72" width="16.68" height="12.36" fill="#d9dce1"/>
<rect x="419.68" y="216.72" width="16.68" height="12.36" fill="#d9dce1"/>
<rect x="435.76" y="216.72" width="16.68" height="12.36" fill="#d9dce1"/>
<rect x="451.84" y="216.72" width="16.68" height="12.36" fill="#d95847"/>
<rect x="467.92" y="216.72" width="16.08" height="12.36" fill="#e0dbd8"/>
<rect x="82.00" y="228.48" width="16.68" height="12.36" fill="#d9dce1"/>
<rect x="98.08" y="228.48" width="16.68" height="12.36" fill="#d9dce1"/>
<rect x="114.16" y="228.48" width="16.68" height="12.36" fill="#d1dae9"/>
<rect x="130.24" y="228.48" width="16.68" height="12.36" fill="#d3dbe7"/>
<rect x="146.32" y="228.48" width="16.68" height="12.36" fill="#d9dce1"/>
<rect x="162.40" y="228.48" width="16.68" height="12.36" fill="#d9dce1"/>
<rect x="178.48" y="228.48" width="16.68" height="12.36" fill="#dedcdb"/>
<rect x="194.56" y="228.48" width="16.68" height="12.36" fill="#d9dce1"/>
<rect x="210.64" y="228.48" width="16.68" height="12.36" fill="#e0dbd8"/>
<rect x="226.72" y="228.48" width="16.68" height="12.36" fill="#e0dbd8"/>
<rect x="242.80" y="228.48" width="16.68" height="12.36" fill="#d7dce3"/>
<rect x="258.88" y="228.48" width="16.68" height="12.36" fill="#d5dbe5"/>
<rect x="274.96" y="228.48" width="16.68" height="12.36" fill="#d9dce1"/>
<rect x="291.04" y="228.48" width="16.68" height="12.36" fill="#d9dce1"/>
<rect x="307.12" y="228.48" width="16.68" height="12.36" fill="#d7dce3"/>
<rect x="323.20" y="228.48" width="16.68" height="12.36" fill="#d9dce1"/>
<rect x="339.28" y="228.48" width="16.68" height="12.36" fill="#edd2c3"/>
<rect x="355.36" y="228.48" width="16.68" height="12.36" fill="#5572df"/>
<rect x="371.44" y="228.48" width="16.68" height="12.36" fill="#b40426"/>
<rect x="387.52" y="228.48" width="16.68" height="12.36" fill="#d9dce1"/>
<rect x="403.60" y="228.48" width="16.68" height="12.36" fill="#d9dce1"/>
<rect x="419.68" y="228.48" width="16.68" height="12.36" fill="#d9dce1"/>
<rect x="435.76" y="228.48" width="16.68" height="12.36" fill="#d9dce1"/>
<rect x="451.84" y="228.48" width="16.68" height="12.36" fill="#3d50c3"/>
<rect x="467.92" y="228.48" width="16.08" height="12.36" fill="#d4dbe6"/>
<rect x="82.00" y="240.24" width="16.68" height="12.36" fill="#c12b30"/>
<rect x="98.08" y="240.24" width="16.68" height="12.36" fill="#d9dce1"/>
<rect x="114.16" y="240.24" width="16.68" height="12.36" fill="#d9dce1"/>
<rect x="130.24" y="240.24" width="16.68" height="12.36" fill="#d9dce1"/>
<rect x="146.32" y="240.24" width="16.68" height="12.36" fill="#efcebd"/>
<rect x="162.40" y="240.24" width="16.68" height="12.36" fill="#d9dce1"/>
<rect x="178.48" y="240.24" width="16.68" height="12.36" fill="#d9dce1"/>
<rect x="194.56" y="240.24" width="16.68" height="12.36" fill="#d95847"/>
<rect x="210.64" y="240.24" width="16.68" height="12.36" fill="#d9dce1"/>
<rect x="226.72" y="240.24" width="16.68" height="12.36" fill="#d9dce1"/>
<rect x="242.80" y="240.24" width="16.68" height="12.36" fill="#d9dce1"/>
<rect x="258.88" y="240.24" width="16.68" height="12.36" fill="#d9dce1"/>
<rect x="274.96" y="240.24" width="16.68" height="12.36" fill="#d9dce1"/>
<rect x="291.04" y="240.24" width="16.68" height="12.36" fill="#f7b79b"/>
<rect x="307.12" y="240.24" width="16.68" height="12.36" fill="#d9dce1"/>
<rect x="323.20" y="240.24" width="16.68" height="12.36" fill="#f6a586"/>
<rect x="339.28" y="240.24" width="16.68" height="12.36" fill="#d9dce1"/>
<rect x="355.36" y="240.24" width="16.68" height="12.36" fill="#d9dce1"/>
<rect x="371.44" y="240.24" width="16.68" height="12.36" fill="#d9dce1"/>
<rect x="387.52" y="240.24" width="16.68" height="12.36" fill="#b40426"/>
<rect x="403.60" y="240.24" width="16.68" height="12.36" fill="#ee8468"/>
<rect x="419.68" y="240.24" width="16.68" height="12.36" fill="#f1ccb8"/>
<rect x="435.76" y="240.24" width="16.68" height="12.36" fill="#d9dce1"/>
<rect x="451.84" y="240.24" width="16.68" height="12.36" fill="#d9dce1"/>
<rect x="467.92" y="240.24" width="16.08" height="12.36" fill="#f29072"/>
<rect x="82.00" y="252.00" width="16.68" height="12.36" fill="#f49a7b"/>
<rect x="98.08" y="252.00" width="16.68" height="12.36" fill="#d9dce1"/>
<rect x="114.16" y="252.00" width="16.68" height="12.36" fill="#d5dbe5"/>
<rect x="130.24" y="252.00" width="16.68" height="12.36" fill="#d9dce1"/>
<rect x="146.32" y="252.00" width="16.68" height="12.36" fill="#de614d"/>
<rect x="162.40" y="252.00" width="16.68" height="12.36" fill="#d9dce1"/>
<rect x="178.48" y="252.00" width="16.68" height="12.36" fill="#d9dce1"/>
<rect x="194.56" y="252.00" width="16.68" height="12.36" fill="#c53334"/>
<rect x="210.64" y="252.00" width="16.68" height="12.36" fill="#d9dce1"/>
<rect x="226.72" y="252.00" width="16.68" height="12.36" fill="#d9dce1"/>
<rect x="242.80" y="252.00" width="16.68" height="12.36" fill="#d9dce1"/>
<rect x="258.88" y="252.00" width="16.68" height="12.36" fill="#d4dbe6"/>
<rect x="274.96" y="252.00" width="16.68" height="12.36" fill="#d9dce1"/>
<rect x="291.04" y="252.00" width="16.68" height="12.36" fill="#ca3b37"/>
<rect x="307.12" y="252.00" width="16.68" height="12.36" fill="#d9dce1"/>
<rect x="323.20" y="252.00" width="16.68" height="12.36" fill="#f6a586"/>
<rect x="339.28" y="252.00" width="16.68" height="12.36" fill="#d9dce1"/>
<rect x="355.36" y="252.00" width="16.68" height="12.36" fill="#d9dce1"/>
<rect x="371.44" y="252.00" width="16.68" height="12.36" fill="#d9dce1"/>
<rect x="387.52" y="252.00" width="16.68" height="12.36" fill="#ee8468"/>
<rect x="403.60" y="252.00" width="16.68" height="12.36" fill="#b40426"/>
<rect x="419.68" y="252.00" width="16.68" height="12.36" fill="#e5d8d1"/>
<rect x="435.76" y="252.00" width="16.68" height="12.36" fill="#f1ccb8"/>
<rect x="451.84" y="252.00" width="16.68" height="12.36" fill="#d9dce1"/>
<rect x="467.92" y="252.00" width="16.08" height="12.36" fill="#e26952"/>
<rect x="82.00" y="263.76" width="16.68" height="12.36" fill="#f1ccb8"/>
<rect x="98.08" y="263.76" width="16.68" height="12.36" fill="#d9dce1"/>
<rect x="114.16" y="263.76" width="16.68" height="12.36" fill="#d9dce1"/>
<rect x="130.24" y="263.76" width="16.68" height="12.36" fill="#d9dce1"/>
<rect x="146.32" y="263.76" width="16.68" height="12.36" fill="#d9dce1"/>
<rect x="162.40" y="263.76" width="16.68" height="12.36" fill="#d9dce1"/>
<rect x="178.48" y="263.76" width="16.68" height="12.36" fill="#d9dce1"/>
<rect x="194.56" y="263.76" width="16.68" height="12.36" fill="#edd2c3"/>
<rect x="210.64" y="263.76" width="16.68" height="12.36" fill="#d9dce1"/>
<rect x="226.72" y="263.76" width="16.68" height="12.36" fill="#d9dce1"/>
<rect x="242.80" y="263.76" width="16.68" height="12.36" fill="#d9dce1"/>
<rect x="258.88" y="263.76" width="16.68" height="12.36" fill="#d9dce1"/>
<rect x="274.96" y="263.76" width="16.68" height="12.36" fill="#d9dce1"/>
<rect x="291.04" y="263.76" width="16.68" height="12.36" fill="#e0dbd8"/>
<rect x="307.12" y="263.76" width="16.68" height="12.36" fill="#d9dce1"/>
<rect x="323.20" y="263.76" width="16.68" height="12.36" fill="#e4d9d2"/>
<rect x="339.28" y="263.76" width="16.68" height="12.36" fill="#d9dce1"/>
<rect x="355.36" y="263.76" width="16.68" height="12.36" fill="#d9dce1"/>
<rect x="371.44" y="263.76" width="16.68" height="12.36" fill="#d9dce1"/>
<rect x="387.52" y="263.76" width="16.68" height="12.36" fill="#f1ccb8"/>
<rect x="403.60" y="263.76" width="16.68" height="12.36" fill="#e5d8d1"/>
<rect x="419.68" y="263.76" width="16.68" height="12.36" fill="#b40426"/>
<rect x="435.76" y="263.76" width="16.68" height="12.36" fill="#d9dce1"/>
<rect x="451.84" y="263.76" width="16.68" height="12.36" fill="#d9dce1"/>
<rect x="467.92" y="263.76" width="16.08" height="12.36" fill="#f5c1a9"/>
<rect x="82.00" y="275.52" width="16.68" height="12.36" fill="#d9dce1"/>
<rect x="98.08" y="275.52" width="16.68" height="12.36" fill="#d9dce1"/>
<rect x="114.16" y="275.52" width="16.68" height="12.36" fill="#d9dce1"/>
<rect x="130.24" y="275.52" width="16.68" height="12.36" fill="#d9dce1"/>
<rect x="146.32" y="275.52" width="16.68" height="12.36" fill="#f1ccb8"/>
<rect x="162.40" y="275.52" width="16.68" height="12.36" fill="#d9dce1"/>
<rect x="178.48" y="275.52" width="16.68" height="12.36" fill="#d9dce1"/>
<rect x="194.56" y="275.52" width="16.68" height="12.36" fill="#d9dce1"/>
<rect x="210.64" y="275.52" width="16.68" height="12.36" fill="#d9dce1"/>
<rect x="226.72" y="275.52" width="16.68" height="12.36" fill="#d9dce1"/>
<rect x="242.80" y="275.52" width="16.68" height="12.36" fill="#d9dce1"/>
<rect x="258.88" y="275.52" width="16.68" height="12.36" fill="#d9dce1"/>
<rect x="274.96" y="275.52" width="16.68" height="12.36" fill="#d9dce1"/>
<rect x="291.04" y="275.52" width="16.68" height="12.36" fill="#f7b79b"/>
<rect x="307.12" y="275.52" width="16.68" height="12.36" fill="#d9dce1"/>
<rect x="323.20" y="275.52" width="16.68" height="12.36" fill="#e0dbd8"/>
<rect x="339.28" y="275.52" width="16.68" height="12.36" fill="#d9dce1"/>
<rect x="355.36" y="275.52" width="16.68" height="12.36" fill="#d9dce1"/>
<rect x="371.44" y="275.52" width="16.68" height="12.36" fill="#d9dce1"/>
<rect x="387.52" y="275.52" width="16.68" height="12.36" fill="#d9dce1"/>
<rect x="403.60" y="275.52" width="16.68" height="12.36" fill="#f1ccb8"/>
<rect x="419.68" y="275.52" width="16.68" height="12.36" fill="#d9dce1"/>
<rect x="435.76" y="275.52" width="16.68" height="12.36" fill="#b40426"/>
<rect x="451.84" y="275.52" width="16.68" height="12.36" fill="#d9dce1"/>
<rect x="467.92" y="275.52" width="16.08" height="12.36" fill="#f5c1a9"/>
<rect x="82.00" y="287.28" width="16.68" height="12.36" fill="#d9dce1"/>
<rect x="98.08" y="287.28" width="16.68" height="12.36" fill="#d7dce3"/>
<rect x="114.16" y="287.28" width="16.68" height="12.36" fill="#dedcdb"/>
<rect x="130.24" y="287.28" width="16.68" height="12.36" fill="#e4d9d2"/>
<rect x="146.32" y="287.28" width="16.68" height="12.36" fill="#d9dce1"/>
<rect x="162.40" y="287.28" width="16.68" height="12.36" fill="#d9dce1"/>
<rect x="178.48" y="287.28" width="16.68" height="12.36" fill="#d7dce3"/>
<rect x="194.56" y="287.28" width="16.68" height="12.36" fill="#d9dce1"/>
<rect x="210.64" y="287.28" width="16.68" height="12.36" fill="#d8dce2"/>
<rect x="226.72" y="287.28" width="16.68" height="12.36" fill="#d8dce2"/>
<rect x="242.80" y="287.28" width="16.68" height="12.36" fill="#d9dce1"/>
<rect x="258.88" y="287.28" width="16.68" height="12.36" fill="#e0dbd8"/>
<rect x="274.96" y="287.28" width="16.68" height="12.36" fill="#d9dce1"/>
<rect x="291.04" y="287.28" width="16.68" height="12.36" fill="#d9dce1"/>
<rect x="307.12" y="287.28" width="16.68" height="12.36" fill="#d9dce1"/>
<rect x="323.20" y="287.28" width="16.68" height="12.36" fill="#d9dce1"/>
<rect x="339.28" y="287.28" width="16.68" height="12.36" fill="#cbd8ee"/>
<rect x="355.36" y="287.28" width="16.68" height="12.36" fill="#d95847"/>
<rect x="371.44" y="287.28" width="16.68" height="12.36" fill="#3d50c3"/>
<rect x="387.52" y="287.28" width="16.68" height="12.36" fill="#d9dce1"/>
<rect x="403.60" y="287.28" width="16.68" height="12.36" fill="#d9dce1"/>
<rect x="419.68" y="287.28" width="16.68" height="12.36" fill="#d9dce1"/>
<rect x="435.76" y="287.28" width="16.68" height="12.36" fill="#d9dce1"/>
<rect x="451.84" y="287.28" width="16.68" height="12.36" fill="#b40426"/>
<rect x="467.92" y="287.28" width="16.08" height="12.36" fill="#e0dbd8"/>
<rect x="82.00" y="299.04" width="16.68" height="11.76" fill="#f39778"/>
<rect x="98.08" y="299.04" width="16.68" height="11.76" fill="#f2c9b4"/>
<rect x="114.16" y="299.04" width="16.68" height="11.76" fill="#d1dae9"/>
<rect x="130.24" y="299.04" width="16.68" height="11.76" fill="#e5d8d1"/>
<rect x="146.32" y="299.04" width="16.68" height="11.76" fill="#f49a7b"/>
<rect x="162.40" y="299.04" width="16.68" height="11.76" fill="#efcebd"/>
<rect x="178.48" y="299.04" width="16.68" height="11.76" fill="#e8d6cc"/>
<rect x="194.56" y="299.04" width="16.68" height="11.76" fill="#e7745b"/>
<rect x="210.64" y="299.04" width="16.68" height="11.76" fill="#e8d6cc"/>
<rect x="226.72" y="299.04" width="16.68" height="11.76" fill="#e8d6cc"/>
<rect x="242.80" y="299.04" width="16.68" height="11.76" fill="#f5c2aa"/>
<rect x="258.88" y="299.04" width="16.68" height="11.76" fill="#d1dae9"/>
<rect x="274.96" y="299.04" width="16.68" height="11.76" fill="#f2cab5"/>
<rect x="291.04" y="299.04" width="16.68" height="11.76" fill="#e67259"/>
<rect x="307.12" y="299.04" width="16.68" height="11.76" fill="#f2cab5"/>
<rect x="323.20" y="299.04" width="16.68" height="11.76" fill="#f7a98b"/>
<rect x="339.28" y="299.04" width="16.68" height="11.76" fill="#bad0f8"/>
<rect x="355.36" y="299.04" width="16.68" height="11.76" fill="#e0dbd8"/>
<rect x="371.44" y="299.04" width="16.68" height="11.76" fill="#d4dbe6"/>
<rect x="387.52" y="299.04" width="16.68" height="11.76" fill="#f29072"/>
<rect x="403.60" y="299.04" width="16.68" height="11.76" fill="#e26952"/>
<rect x="419.68" y="299.04" width="16.68" height="11.76" fill="#f5c1a9"/>
<rect x="435.76" y="299.04" width="16.68" height="11.76" fill="#f5c1a9"/>
<rect x="451.84" y="299.04" width="16.68" height="11.76" fill="#e0dbd8"/>
<rect x="467.92" y="299.04" width="16.08" height="11.76" fill="#b40426"/>
</g>
<g stroke="#000000" stroke-width="0.80">
<line x1="79.60" y1="22.68" x2="82.00" y2="22.68"/>
<line x1="79.60" y1="34.44" x2="82.00" y2="34.44"/>
<line x1="79.60" y1="46.20" x2="82.00" y2="46.20"/>
<line x1="79.60" y1="57.96" x2="82.00" y2="57.96"/>
<line x1="79.60" y1="69.72" x2="82.00" y2="69.72"/>
<line x1="79.60" y1="81.48" x2="82.00" y2="81.48"/>
<line x1="79.60" y1="93.24" x2="82.00" y2="93.24"/>
<line x1="79.60" y1="105.00" x2="82.00" y2="105.00"/>
<line x1="79.60" y1="116.76" x2="82.00" y2="116.76"/>
<line x1="79.60" y1="128.52" x2="82.00" y2="128.52"/>
<line x1="79.60" y1="140.28" x2="82.00" y2="140.28"/>
<line x1="79.60" y1="152.04" x2="82.00" y2="152.04"/>
<line x1="79.60" y1="163.80" x2="82.00" y2="163.80"/>
<line x1="79.60" y1="175.56" x2="82.00" y2="175.56"/>
<line x1="79.60" y1="187.32" x2="82.00" y2="187.32"/>
<line x1="79.60" y1="199.08" x2="82.00" y2="199.08"/>
<line x1="79.60" y1="210.84" x2="82.00" y2="210.84"/>
<line x1="79.60" y1="222.60" x2="82.00" y2="222.60"/>
<line x1="79.60" y1="234.36" x2="82.00" y2="234.36"/>
<line x1="79.60" y1="246.12" x2="82.00" y2="246.12"/>
<line x1="79.60" y1="257.88" x2="82.00" y2="257.88"/>
<line x1="79.60" y1="269.64" x2="82.00" y2="269.64"/>
<line x1="79.60" y1="281.40" x2="82.00" y2="281.40"/>
<line x1="79.60" y1="293.16" x2="82.00" y2="293.16"/>
<line x1="79.60" y1="304.92" x2="82.00" y2="304.92"/>
<line x1="90.04" y1="310.80" x2="90.04" y2="313.20"/>
<line x1="106.12" y1="310.80" x2="106.12" y2="313.20"/>
<line x1="122.20" y1="310.80" x2="122.20" y2="313.20"/>
<line x1="138.28" y1="310.80" x2="138.28" y2="313.20"/>
<line x1="154.36" y1="310.80" x2="154.36" y2="313.20"/>
<line x1="170.44" y1="310.80" x2="170.44" y2="313.20"/>
<line x1="186.52" y1="310.80" x2="186.52" y2="313.20"/>
<line x1="202.60" y1="310.80" x2="202.60" y2="313.20"/>
<line x1="218.68" y1="310.80" x2="218.68" y2="313.20"/>
<line x1="234.76" y1="310.80" x2="234.76" y2="313.20"/>
<line x1="250.84" y1="310.80" x2="250.84" y2="313.20"/>
<line x1="266.92" y1="310.80" x2="266.92" y2="313.20"/>
<line x1="283.00" y1="310.80" x2="283.00" y2="313.20"/>
<line x1="299.08" y1="310.80" x2="299.08" y2="313.20"/>
<line x1="315.16" y1="310.80" x2="315.16" y2="313.20"/>
<line x1="331.24" y1="310.80" x2="331.24" y2="313.20"/>
<line x1="347.32" y1="310.80" x2="347.32" y2="313.20"/>
<line x1="363.40" y1="310.80" x2="363.40" y2="313.20"/>
<line x1="379.48" y1="310.80" x2="379.48" y2="313.20"/>
<line x1="395.56" y1="310.80" x2="395.56" y2="313.20"/>
<line x1="411.64" y1="310.80" x2="411.64" y2="313.20"/>
<line x1="427.72" y1="310.80" x2="427.72" y2="313.20"/>
<line x1="443.80" y1="310.80" x2="443.80" y2="313.20"/>
<line x1="459.88" y1="310.80" x2="459.88" y2="313.20"/>
<line x1="475.96" y1="310.80" x2="475.96" y2="313.20"/>
</g>
<g font-size="6.82" text-anchor="end">
<text transform="translate(77.10 24.63) rotate(0.03)">rcvdbyte</text>
<text transform="translate(77.10 36.39) rotate(0.03)">dstport</text>
<text transform="translate(77.10 48.15) rotate(0.03)">transport</text>
<text transform="translate(77.10 59.91) rotate(0.03)">policyid</text>
<text transform="translate(77.10 71.67) rotate(0.03)">duration</text>
<text transform="translate(77.10 83.43) rotate(0.03)">level</text>
<text transform="translate(77.10 95.19) rotate(0.03)">apprisk</text>
<text transform="translate(77.10 106.95) rotate(0.03)">rcvdpkt</text>
<text transform="translate(77.10 118.71) rotate(0.03)">utmaction</text>
<text transform="translate(77.10 130.47) rotate(0.03)">countapp</text>
<text transform="translate(77.10 142.23) rotate(0.03)">countssl</text>
<text transform="translate(77.10 153.99) rotate(0.03)">srcport</text>
<text transform="translate(77.10 165.75) rotate(0.03)">countips</text>
<text transform="translate(77.10 177.51) rotate(0.03)">sentpkt</text>
<text transform="translate(77.10 189.27) rotate(0.03)">countweb</text>
<text transform="translate(77.10 201.03) rotate(0.03)">sentbyte</text>
<text transform="translate(77.10 212.79) rotate(0.03)">dstreputation_cat</text>
<text transform="translate(77.10 224.55) rotate(0.03)">hour</text>
<text transform="translate(77.10 236.31) rotate(0.03)">dayofweek</text>
<text transform="translate(77.10 248.07) rotate(0.03)">bytes_total</text>
<text transform="translate(77.10 259.83) rotate(0.03)">pkt_total</text>
<text transform="translate(77.10 271.59) rotate(0.03)">bytes_per_sec</text>
<text transform="translate(77.10 283.35) rotate(0.03)">pkt_ratio</text>
<text transform="translate(77.10 295.11) rotate(0.03)">cluster</text>
<text transform="translate(77.10 306.87) rotate(0.03)">distance_to_centroid</text>
</g>
<g font-size="6.82" text-anchor="end">
<text transform="translate(92.74 316.70) rotate(-89.97)">rcvdbyte</text>
<text transform="translate(108.82 316.70) rotate(-89.97)">dstport</text>
<text transform="translate(124.90 316.70) rotate(-89.97)">transport</text>
<text transform="translate(140.98 316.70) rotate(-89.97)">policyid</text>
<text transform="translate(157.06 316.70) rotate(-89.97)">duration</text>
<text transform="translate(173.14 316.70) rotate(-89.97)">level</text>
<text transform="translate(189.22 316.70) rotate(-89.97)">apprisk</text>
<text transform="translate(205.30 316.70) rotate(-89.97)">rcvdpkt</text>
<text transform="translate(221.38 316.70) rotate(-89.97)">utmaction</text>
<text transform="translate(237.46 316.70) rotate(-89.97)">countapp</text>
<text transform="translate(253.54 316.70) rotate(-89.97)">countssl</text>
<text transform="translate(269.62 316.70) rotate(-89.97)">srcport</text>
<text transform="translate(285.70 316.70) rotate(-89.97)">countips</text>
<text transform="translate(301.78 316.70) rotate(-89.97)">sentpkt</text>
<text transform="translate(317.86 316.70) rotate(-89.97)">countweb</text>
<text transform="translate(333.94 316.70) rotate(-89.97)">sentbyte</text>
<text transform="translate(350.02 316.70) rotate(-89.97)">dstreputation_cat</text>
<text transform="translate(366.10 316.70) rotate(-89.97)">hour</text>
<text transform="translate(382.18 316.70) rotate(-89.97)">dayofweek</text>
<text transform="translate(398.26 316.70) rotate(-89.97)">bytes_total</text>
<text transform="translate(414.34 316.70) rotate(-89.97)">pkt_total</text>
<text transform="translate(430.42 316.70) rotate(-89.97)">bytes_per_sec</text>
<text transform="translate(446.50 316.70) rotate(-89.97)">pkt_ratio</text>
<text transform="translate(462.58 316.70) rotate(-89.97)">cluster</text>
<text transform="translate(478.66 316.70) rotate(-89.97)">distance_to_centroid</text>
</g>
<text transform="translate(282.70 12.80) rotate(0.02)" font-size="8.27" text-anchor="middle">Correlation Map of Features</text>
<rect x="509.00" y="16.80" width="15.20" height="294.00" fill="url(#cb)"/>
<g stroke="#000000" stroke-width="0.80">
<line x1="524.20" y1="17.10" x2="526.60" y2="17.10"/>
<line x1="524.20" y1="54.41" x2="526.60" y2="54.41"/>
<line x1="524.20" y1="91.72" x2="526.60" y2="91.72"/>
<line x1="524.20" y1="129.03" x2="526.60" y2="129.03"/>
<line x1="524.20" y1="166.34" x2="526.60" y2="166.34"/>
<line x1="524.20" y1="203.65" x2="526.60" y2="203.65"/>
<line x1="524.20" y1="240.96" x2="526.60" y2="240.96"/>
<line x1="524.20" y1="278.27" x2="526.60" y2="278.27"/>
</g>
<g font-size="6.82">
<text transform="translate(529.00 19.50) rotate(0.03)">1.00</text>
<text transform="translate(529.00 56.81) rotate(0.03)">0.75</text>
<text transform="translate(529.00 94.12) rotate(0.03)">0.50</text>
<text transform="translate(529.00 131.43) rotate(0.03)">0.25</text>
<text transform="translate(529.00 168.74) rotate(0.03)">0.00</text>
<text transform="translate(529.00 206.05) rotate(0.03)">−0.25</text>
<text transform="translate(529.00 243.36) rotate(0.03)">−0.50</text>
<text transform="translate(529.00 280.67) rotate(0.03)">−0.75</text>
</g>
</svg></body></html>
